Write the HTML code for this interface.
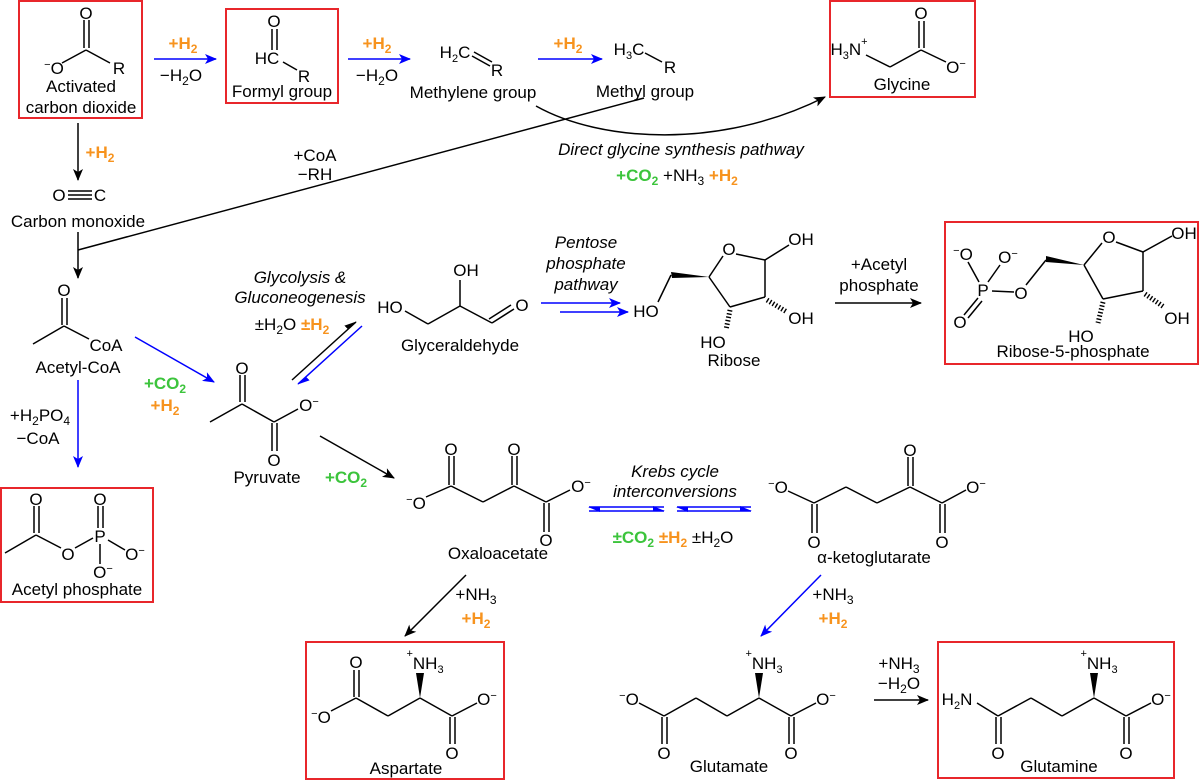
<!DOCTYPE html>
<html><head><meta charset="utf-8"><style>
html,body{margin:0;padding:0;background:#fff}
svg{display:block}
text{font-family:"Liberation Sans",Arial,sans-serif;font-size:17px;fill:#000}
.a{font-size:16px}
.o{fill:#f7931e;font-weight:bold}
.g{fill:#3cc43c;font-weight:bold}
.i{font-style:italic}
</style></head><body>
<svg width="1200" height="781" viewBox="0 0 1200 781" xmlns="http://www.w3.org/2000/svg">
<defs>
<marker id="mk" markerWidth="12" markerHeight="10" refX="11" refY="5" orient="auto" markerUnits="userSpaceOnUse"><path d="M0,0 L12,5 L0,10 L3,5 z" fill="#000"/></marker>
<marker id="mb" markerWidth="12" markerHeight="10" refX="11" refY="5" orient="auto" markerUnits="userSpaceOnUse"><path d="M0,0 L12,5 L0,10 L3,5 z" fill="#00f"/></marker>
<marker id="hk" markerWidth="12" markerHeight="6" refX="11" refY="5" orient="auto" markerUnits="userSpaceOnUse"><path d="M0,0 L12,5 L0,5 z" fill="#000"/></marker>
<marker id="hb" markerWidth="12" markerHeight="6" refX="11" refY="5" orient="auto" markerUnits="userSpaceOnUse"><path d="M0,0 L12,5 L0,5 z" fill="#00f"/></marker>
</defs>

<g fill="none" stroke="#e8262b" stroke-width="2">
<rect x="19" y="1" width="123" height="117"/>
<rect x="226" y="9" width="112" height="94"/>
<rect x="830" y="1" width="145" height="96"/>
<rect x="945" y="222" width="253" height="142"/>
<rect x="1" y="488" width="152" height="114"/>
<rect x="306" y="642" width="198" height="137"/>
<rect x="938" y="642" width="236" height="136"/>
</g>

<g stroke="#000" stroke-width="1.5" fill="none">
<line x1="84" y1="20" x2="84" y2="48"/><line x1="89" y1="20" x2="89" y2="48"/>
<line x1="86" y1="50" x2="62" y2="63"/><line x1="86" y1="50" x2="110" y2="63"/>
<line x1="272" y1="29" x2="272" y2="50"/><line x1="277" y1="29" x2="277" y2="50"/>
<line x1="283" y1="62" x2="297" y2="70"/>
<line x1="472" y1="56" x2="490" y2="66"/><line x1="474" y1="52" x2="492" y2="62"/>
<line x1="645" y1="53" x2="662" y2="62"/>
<line x1="919" y1="21" x2="919" y2="48"/><line x1="924" y1="21" x2="924" y2="48"/>
<line x1="866" y1="55" x2="890" y2="67"/><line x1="890" y1="67" x2="921" y2="50"/><line x1="921" y1="50" x2="946" y2="62"/>
<line x1="68" y1="191" x2="92" y2="191"/><line x1="68" y1="195" x2="92" y2="195"/><line x1="68" y1="199" x2="92" y2="199"/>
<line x1="62" y1="298" x2="62" y2="325"/><line x1="67" y1="298" x2="67" y2="325"/>
<line x1="64" y1="326" x2="33" y2="344"/><line x1="64" y1="326" x2="89" y2="339"/>
<line x1="34" y1="506" x2="34" y2="533"/><line x1="39" y1="506" x2="39" y2="533"/>
<line x1="36" y1="535" x2="5" y2="553"/><line x1="36" y1="535" x2="61" y2="548"/>
<line x1="75" y1="548" x2="93" y2="538"/>
<line x1="98" y1="506" x2="98" y2="528"/><line x1="103" y1="506" x2="103" y2="528"/>
<line x1="108" y1="540" x2="125" y2="550"/><line x1="100" y1="544" x2="100" y2="564"/>
<line x1="240" y1="375" x2="240" y2="402"/><line x1="245" y1="375" x2="245" y2="402"/>
<line x1="242" y1="404" x2="210" y2="422"/><line x1="242" y1="404" x2="274" y2="422"/>
<line x1="274" y1="422" x2="298" y2="409"/>
<line x1="272" y1="423" x2="272" y2="451"/><line x1="277" y1="423" x2="277" y2="451"/>
<line x1="405" y1="311" x2="428" y2="324"/><line x1="428" y1="324" x2="460" y2="306"/><line x1="460" y1="306" x2="492" y2="323"/>
<line x1="460" y1="306" x2="460" y2="280"/>
<line x1="492" y1="323" x2="514" y2="309"/><line x1="489" y1="319" x2="511" y2="305"/>
<line x1="736" y1="254" x2="765" y2="260"/><line x1="765" y1="260" x2="765" y2="297"/><line x1="765" y1="297" x2="730" y2="307"/><line x1="730" y1="307" x2="709" y2="277"/><line x1="709" y1="277" x2="723" y2="256"/>
<line x1="765" y1="260" x2="789" y2="245"/>
<line x1="671" y1="275" x2="658" y2="302"/>
<line x1="1116" y1="242" x2="1143" y2="252"/><line x1="1143" y1="252" x2="1143" y2="291"/><line x1="1143" y1="291" x2="1103" y2="299"/><line x1="1103" y1="299" x2="1084" y2="265"/><line x1="1084" y1="265" x2="1102" y2="243"/>
<line x1="1143" y1="252" x2="1172" y2="236"/>
<line x1="1046" y1="260" x2="1026" y2="285"/>
<line x1="1014" y1="292" x2="992" y2="291"/>
<line x1="968" y1="262" x2="979" y2="282"/>
<line x1="1000" y1="265" x2="988" y2="282"/>
<line x1="978" y1="298" x2="964" y2="315"/><line x1="982" y1="301" x2="968" y2="318"/>
<line x1="426" y1="497" x2="451" y2="486"/>
<line x1="449" y1="456" x2="449" y2="485"/><line x1="454" y1="456" x2="454" y2="485"/>
<line x1="451" y1="486" x2="483" y2="502"/><line x1="483" y1="502" x2="514" y2="486"/>
<line x1="512" y1="456" x2="512" y2="485"/><line x1="517" y1="456" x2="517" y2="485"/>
<line x1="514" y1="486" x2="546" y2="502"/><line x1="546" y1="502" x2="570" y2="490"/>
<line x1="544" y1="503" x2="544" y2="532"/><line x1="549" y1="503" x2="549" y2="532"/>
<line x1="788" y1="491" x2="814" y2="503"/>
<line x1="812" y1="504" x2="812" y2="533"/><line x1="817" y1="504" x2="817" y2="533"/>
<line x1="814" y1="503" x2="846" y2="487"/><line x1="846" y1="487" x2="877" y2="503"/><line x1="877" y1="503" x2="910" y2="487"/>
<line x1="908" y1="457" x2="908" y2="486"/><line x1="913" y1="457" x2="913" y2="486"/>
<line x1="910" y1="487" x2="942" y2="503"/><line x1="942" y1="503" x2="966" y2="490"/>
<line x1="940" y1="504" x2="940" y2="533"/><line x1="945" y1="504" x2="945" y2="533"/>
<line x1="331" y1="711" x2="356" y2="698"/>
<line x1="354" y1="670" x2="354" y2="697"/><line x1="359" y1="670" x2="359" y2="697"/>
<line x1="356" y1="698" x2="388" y2="716"/><line x1="388" y1="716" x2="420" y2="698"/><line x1="420" y1="698" x2="452" y2="716"/><line x1="452" y1="716" x2="477" y2="703"/>
<line x1="450" y1="717" x2="450" y2="744"/><line x1="455" y1="717" x2="455" y2="744"/>
<line x1="639" y1="703" x2="664" y2="716"/>
<line x1="662" y1="717" x2="662" y2="744"/><line x1="667" y1="717" x2="667" y2="744"/>
<line x1="664" y1="716" x2="696" y2="698"/><line x1="696" y1="698" x2="727" y2="716"/><line x1="727" y1="716" x2="759" y2="698"/><line x1="759" y1="698" x2="791" y2="716"/><line x1="791" y1="716" x2="816" y2="703"/>
<line x1="789" y1="717" x2="789" y2="744"/><line x1="794" y1="717" x2="794" y2="744"/>
<line x1="977" y1="703" x2="998" y2="716"/>
<line x1="996" y1="717" x2="996" y2="744"/><line x1="1001" y1="717" x2="1001" y2="744"/>
<line x1="998" y1="716" x2="1031" y2="698"/><line x1="1031" y1="698" x2="1062" y2="716"/><line x1="1062" y1="716" x2="1094" y2="698"/><line x1="1094" y1="698" x2="1126" y2="716"/><line x1="1126" y1="716" x2="1151" y2="703"/>
<line x1="1124" y1="717" x2="1124" y2="744"/><line x1="1129" y1="717" x2="1129" y2="744"/>
</g>
<g fill="#000">
<polygon points="709,277 671,272 672,278"/>
<polygon points="1084,265 1046,256 1046,262"/>
<polygon points="420,698 416,673 424,673"/>
<polygon points="759,698 755,673 763,673"/>
<polygon points="1094,698 1090,673 1098,673"/>
</g>
<g stroke="#000" stroke-dasharray="1.4 2" fill="none">
<line x1="767" y1="300" x2="787" y2="312" stroke-width="5"/>
<line x1="730" y1="310" x2="726" y2="330" stroke-width="5"/>
<line x1="1145" y1="294" x2="1164" y2="307" stroke-width="5"/>
<line x1="1103" y1="302" x2="1098" y2="323" stroke-width="5"/>
</g>

<g stroke-width="1.5" fill="none">
<line x1="154" y1="59" x2="216" y2="59" stroke="#00f" marker-end="url(#mb)"/>
<line x1="348" y1="59" x2="410" y2="59" stroke="#00f" marker-end="url(#mb)"/>
<line x1="538" y1="59" x2="602" y2="59" stroke="#00f" marker-end="url(#mb)"/>
<path d="M536,106 C600,142 720,150 825,97" stroke="#000" marker-end="url(#mk)"/>
<line x1="78" y1="123" x2="78" y2="180" stroke="#000" marker-end="url(#mk)"/>
<line x1="78" y1="250" x2="644" y2="98" stroke="#000"/>
<line x1="78" y1="232" x2="78" y2="278" stroke="#000" marker-end="url(#mk)"/>
<line x1="135" y1="337" x2="214" y2="382" stroke="#00f" marker-end="url(#mb)"/>
<line x1="78" y1="380" x2="78" y2="467" stroke="#00f" marker-end="url(#mb)"/>
<line x1="292" y1="380" x2="356" y2="322" stroke="#000" marker-end="url(#hk)"/>
<line x1="362" y1="326" x2="298" y2="384" stroke="#00f" marker-end="url(#hb)"/>
<line x1="541" y1="303" x2="620" y2="303" stroke="#00f" marker-end="url(#mb)"/>
<line x1="560" y1="312" x2="628" y2="312" stroke="#00f" marker-end="url(#mb)"/>
<line x1="835" y1="303" x2="921" y2="303" stroke="#000" marker-end="url(#mk)"/>
<line x1="320" y1="436" x2="394" y2="478" stroke="#000" marker-end="url(#mk)"/>
<line x1="664" y1="507" x2="589" y2="507" stroke="#00f" marker-end="url(#hb)"/>
<line x1="589" y1="511" x2="664" y2="511" stroke="#00f" marker-end="url(#hb)"/>
<line x1="751" y1="507" x2="677" y2="507" stroke="#00f" marker-end="url(#hb)"/>
<line x1="677" y1="511" x2="751" y2="511" stroke="#00f" marker-end="url(#hb)"/>
<line x1="466" y1="575" x2="405" y2="636" stroke="#000" marker-end="url(#mk)"/>
<line x1="821" y1="575" x2="761" y2="636" stroke="#00f" marker-end="url(#mb)"/>
<line x1="874" y1="700" x2="928" y2="700" stroke="#000" marker-end="url(#mk)"/>
</g>

<g class="a" text-anchor="middle">
<text x="86" y="19">O</text>
<text x="54" y="74"><tspan dy="-6" font-size="11">−</tspan><tspan dy="6">O</tspan></text>
<text x="119" y="74">R</text>
<text x="274" y="27">O</text>
<text x="267" y="64">HC</text>
<text x="304" y="82">R</text>
<text x="455" y="58">H<tspan dy="4" font-size="11">2</tspan><tspan dy="-4">C</tspan></text>
<text x="497" y="76">R</text>
<text x="629" y="55">H<tspan dy="4" font-size="11">3</tspan><tspan dy="-4">C</tspan></text>
<text x="670" y="73">R</text>
<text x="921" y="19">O</text>
<text x="849" y="55">H<tspan dy="4" font-size="11">3</tspan><tspan dy="-4">N</tspan><tspan dy="-10" font-size="11">+</tspan></text>
<text x="956" y="73">O<tspan dy="-6" font-size="11">−</tspan></text>
<text x="59" y="201">O</text>
<text x="100" y="201">C</text>
<text x="64" y="296">O</text>
<text x="106" y="351">CoA</text>
<text x="36" y="505">O</text>
<text x="68" y="560">O</text>
<text x="100" y="542">P</text>
<text x="100" y="505">O</text>
<text x="135" y="560">O<tspan dy="-6" font-size="11">−</tspan></text>
<text x="103" y="578">O<tspan dy="-6" font-size="11">−</tspan></text>
<text x="242" y="374">O</text>
<text x="309" y="411">O<tspan dy="-6" font-size="11">−</tspan></text>
<text x="274" y="466">O</text>
<text x="466" y="276">OH</text>
<text x="390" y="313">HO</text>
<text x="522" y="311">O</text>
<text x="729" y="255">O</text>
<text x="801" y="245">OH</text>
<text x="801" y="324">OH</text>
<text x="713" y="348">HO</text>
<text x="646" y="317">HO</text>
<text x="1109" y="243">O</text>
<text x="1184" y="239">OH</text>
<text x="1177" y="324">OH</text>
<text x="1081" y="342">HO</text>
<text x="1021" y="299">O</text>
<text x="983" y="296">P</text>
<text x="963" y="260"><tspan dy="-6" font-size="11">−</tspan><tspan dy="6">O</tspan></text>
<text x="1008" y="263">O<tspan dy="-6" font-size="11">−</tspan></text>
<text x="960" y="328">O</text>
<text x="451" y="455">O</text>
<text x="514" y="455">O</text>
<text x="416" y="509"><tspan dy="-6" font-size="11">−</tspan><tspan dy="6">O</tspan></text>
<text x="581" y="492">O<tspan dy="-6" font-size="11">−</tspan></text>
<text x="546" y="546">O</text>
<text x="778" y="493"><tspan dy="-6" font-size="11">−</tspan><tspan dy="6">O</tspan></text>
<text x="814" y="548">O</text>
<text x="910" y="456">O</text>
<text x="976" y="493">O<tspan dy="-6" font-size="11">−</tspan></text>
<text x="942" y="548">O</text>
<text x="356" y="668">O</text>
<text x="321" y="723"><tspan dy="-6" font-size="11">−</tspan><tspan dy="6">O</tspan></text>
<text x="487" y="705">O<tspan dy="-6" font-size="11">−</tspan></text>
<text x="452" y="759">O</text>
<text x="425" y="669"><tspan dy="-12" font-size="11">+</tspan><tspan dy="12">NH</tspan><tspan dy="4" font-size="11">3</tspan></text>
<text x="629" y="705"><tspan dy="-6" font-size="11">−</tspan><tspan dy="6">O</tspan></text>
<text x="664" y="759">O</text>
<text x="826" y="705">O<tspan dy="-6" font-size="11">−</tspan></text>
<text x="791" y="759">O</text>
<text x="764" y="669"><tspan dy="-12" font-size="11">+</tspan><tspan dy="12">NH</tspan><tspan dy="4" font-size="11">3</tspan></text>
<text x="957" y="705">H<tspan dy="4" font-size="11">2</tspan><tspan dy="-4">N</tspan></text>
<text x="998" y="759">O</text>
<text x="1161" y="705">O<tspan dy="-6" font-size="11">−</tspan></text>
<text x="1126" y="759">O</text>
<text x="1099" y="669"><tspan dy="-12" font-size="11">+</tspan><tspan dy="12">NH</tspan><tspan dy="4" font-size="11">3</tspan></text>
</g>

<g text-anchor="middle">
<text x="81" y="92">Activated</text>
<text x="81" y="113">carbon dioxide</text>
<text x="282" y="97">Formyl group</text>
<text x="473" y="98">Methylene group</text>
<text x="645" y="97">Methyl group</text>
<text x="902" y="90">Glycine</text>
<text x="78" y="227">Carbon monoxide</text>
<text x="78" y="373">Acetyl-CoA</text>
<text x="77" y="595">Acetyl phosphate</text>
<text x="267" y="483">Pyruvate</text>
<text x="460" y="351">Glyceraldehyde</text>
<text x="734" y="366">Ribose</text>
<text x="1073" y="357">Ribose-5-phosphate</text>
<text x="498" y="559">Oxaloacetate</text>
<text x="874" y="563">α-ketoglutarate</text>
<text x="406" y="774">Aspartate</text>
<text x="729" y="772">Glutamate</text>
<text x="1059" y="772">Glutamine</text>

<text x="183" y="49" class="o">+H<tspan dy="4" font-size="12">2</tspan></text>
<text x="181" y="81">−H<tspan dy="4" font-size="12">2</tspan><tspan dy="-4">O</tspan></text>
<text x="377" y="49" class="o">+H<tspan dy="4" font-size="12">2</tspan></text>
<text x="377" y="81">−H<tspan dy="4" font-size="12">2</tspan><tspan dy="-4">O</tspan></text>
<text x="568" y="49" class="o">+H<tspan dy="4" font-size="12">2</tspan></text>
<text x="100" y="158" class="o">+H<tspan dy="4" font-size="12">2</tspan></text>
<text x="315" y="161">+CoA</text>
<text x="315" y="180">−RH</text>
<text x="681" y="155" class="i">Direct glycine synthesis pathway</text>
<text x="677" y="181"><tspan class="g">+CO<tspan dy="4" font-size="12">2</tspan></tspan><tspan dy="-4"> +NH</tspan><tspan dy="4" font-size="12">3</tspan><tspan dy="-4" class="o"> +H</tspan><tspan dy="4" font-size="12" class="o">2</tspan></text>
<text x="165" y="389" class="g">+CO<tspan dy="4" font-size="12">2</tspan></text>
<text x="165" y="411" class="o">+H<tspan dy="4" font-size="12">2</tspan></text>
<text x="40" y="421">+H<tspan dy="4" font-size="12">2</tspan><tspan dy="-4">PO</tspan><tspan dy="4" font-size="12">4</tspan></text>
<text x="38" y="444">−CoA</text>
<text x="300" y="283" class="i">Glycolysis &amp;</text>
<text x="300" y="303" class="i">Gluconeogenesis</text>
<text x="292" y="330">±H<tspan dy="4" font-size="12">2</tspan><tspan dy="-4">O </tspan><tspan class="o">±H<tspan dy="4" font-size="12">2</tspan></tspan></text>
<text x="586" y="248" class="i">Pentose</text>
<text x="586" y="269" class="i">phosphate</text>
<text x="586" y="290" class="i">pathway</text>
<text x="879" y="270">+Acetyl</text>
<text x="879" y="291">phosphate</text>
<text x="346" y="483" class="g">+CO<tspan dy="4" font-size="12">2</tspan></text>
<text x="675" y="477" class="i">Krebs cycle</text>
<text x="675" y="497" class="i">interconversions</text>
<text x="673" y="543"><tspan class="g">±CO<tspan dy="4" font-size="12">2</tspan></tspan><tspan dy="-4" class="o"> ±H</tspan><tspan dy="4" font-size="12" class="o">2</tspan><tspan dy="-4"> ±H</tspan><tspan dy="4" font-size="12">2</tspan><tspan dy="-4">O</tspan></text>
<text x="476" y="600">+NH<tspan dy="4" font-size="12">3</tspan></text>
<text x="476" y="624" class="o">+H<tspan dy="4" font-size="12">2</tspan></text>
<text x="833" y="600">+NH<tspan dy="4" font-size="12">3</tspan></text>
<text x="833" y="624" class="o">+H<tspan dy="4" font-size="12">2</tspan></text>
<text x="899" y="669">+NH<tspan dy="4" font-size="12">3</tspan></text>
<text x="899" y="689">−H<tspan dy="4" font-size="12">2</tspan><tspan dy="-4">O</tspan></text>
</g>
</svg>
</body></html>
